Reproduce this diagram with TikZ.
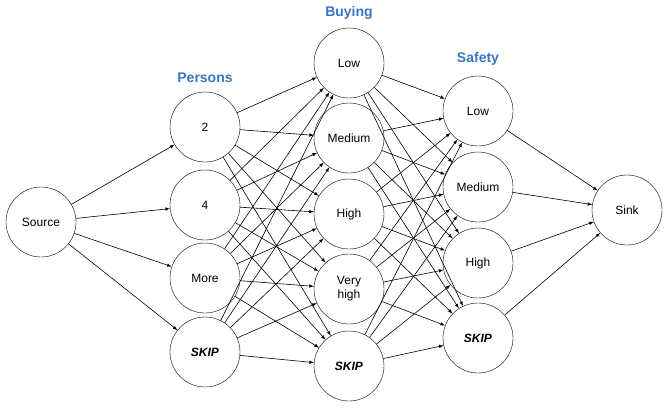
\documentclass[tikz,border=0pt]{standalone}
\usepackage{fontspec}
\setmainfont{Liberation Sans}
\usetikzlibrary{arrows,positioning}
\definecolor{titleblue}{RGB}{58,117,196}
\tikzset{
  state/.style={circle, draw, minimum size=70pt, inner sep=1pt, align=center, font=\fontsize{12}{14}\selectfont},
  title/.style={text=titleblue, font=\fontsize{14}{16}\selectfont\bfseries},
  line/.style={draw, -latex, line width=0.6pt}
}
\begin{document}
\begin{tikzpicture}[x=1pt,y=-1pt]
  \useasboundingbox (0,0) rectangle (669,415);
  % nodes
  \node[state] (src) at (41,222) {Source};
  \node[state] (p1) at (205,127) {2};
  \node[state] (p2) at (205,205) {4};
  \node[state] (p3) at (205,278) {More};
  \node[state] (p4) at (205,352) {\textbf{\textit{SKIP}}};
  \node[state] (b1) at (349,63) {Low};
  \node[state] (b2) at (349,138) {Medium};
  \node[state] (b3) at (349,214) {High};
  \node[state] (b4) at (349,289) {Very\\high};
  \node[state] (b5) at (349,366) {\textbf{\textit{SKIP}}};
  \node[state] (s1) at (478,111) {Low};
  \node[state] (s2) at (478,187) {Medium};
  \node[state] (s3) at (478,263) {High};
  \node[state] (s4) at (478,338) {\textbf{\textit{SKIP}}};
  \node[state] (sink) at (627,210) {Sink};
  % titles
  \node[title] (tp) at (205,78) {Persons};
  \node[title] (tb) at (349,13) {Buying};
  \node[title] (ts) at (478,59) {Safety};
  % connectors
  \foreach \p in {1,...,4} {
    \path[line] (src) -- (p\p);
    \foreach \b in {1,...,5} \path[line] (p\p) -- (b\b);
  }
  \foreach \b in {1,...,5}
    \foreach \s in {1,...,4} \path[line] (b\b) -- (s\s);
  \foreach \s in {1,...,4} \path[line] (s\s) -- (sink);
\end{tikzpicture}
\end{document}
